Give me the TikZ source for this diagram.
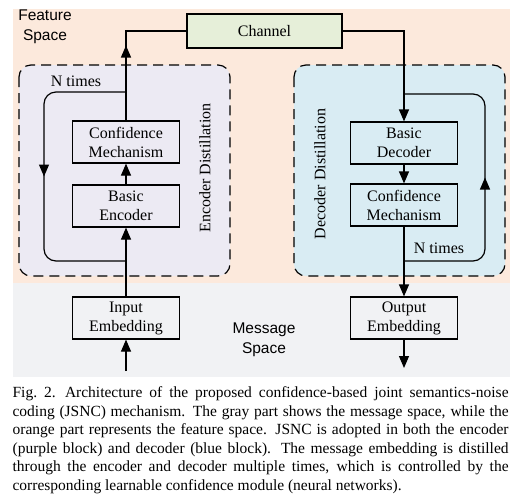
\documentclass[tikz,border=0pt]{standalone}
\usepackage{fontspec}
\setmainfont{Liberation Serif}
\newfontfamily\spacefont{Liberation Sans}
\usetikzlibrary{decorations.markings}
\usetikzlibrary{positioning, arrows.meta}

\definecolor{featOrange}{HTML}{FCE9DC}
\definecolor{msgGray}{HTML}{F1F2F4}
\definecolor{encPurple}{HTML}{ECEAF3}
\definecolor{decBlue}{HTML}{D9ECF3}
\definecolor{chanGreen}{HTML}{E6EFD9}

\begin{document}
\begin{tikzpicture}[
		x=1pt, y=-1pt,
		line width=1.2pt,
		>={Triangle[length=12pt, width=10pt]},
		decoration={
			markings,
			mark=at position 0.5 with {\arrow{>}}
		},
		font=\fontsize{16}{19}\selectfont,
		block/.style={draw, minimum width=107pt, minimum height=42pt, inner sep=2pt},
		distil/.style={draw, dash pattern=on 10pt off 6pt, rounded corners=12pt},
		spaceLbl/.style={font=\spacefont\fontsize{15.5}{20}\selectfont},
		every text node part/.style={align=center}
	]
	\useasboundingbox (0,0) rectangle (526,499);
	\fill[featOrange] (13,9) rectangle (510,283);
	\fill[msgGray] (13,283) rectangle (510,377);
	\draw[distil, fill=encPurple] (19,65) rectangle (230,276);
	\draw[distil, fill=decBlue] (294,65) rectangle (505,276);

	\node[spaceLbl] (featLbl) at (45,27) {Feature\\Space};
	\node[spaceLbl] (msgLbl) at (264,340) {Message\\Space};

	\node[block, fill=chanGreen, minimum width=155pt, minimum height=34pt] (chan) at (264.5,31) {Channel};
	\node[block] (confE) at (126,142) {Confidence\\Mechanism};
	\node[block] (basicE) at (126,206) {Basic\\Encoder};
	\node[block] (inEmb) at (126,318) {Input\\Embedding};
	\node[block] (basicD) at (404,143) {Basic\\Decoder};
	\node[block] (confD) at (404,205) {Confidence\\Mechanism};
	\node[block] (outEmb) at (404,318) {Output\\Embedding};

	\node (nE) at (76,81) {N times};
	\node (nD) at (439,248) {N times};
	\node[rotate=90] (encLbl) at (205,168) {Encoder Distillation};
	\node[rotate=90] (decLbl) at (320,174) {Decoder Distillation};

	\coordinate (inStart) at (126,371);
	\coordinate (outEnd) at (404,368);
	\coordinate (eTop) at (126,92);
	\coordinate (eBot) at (126,261);
	\coordinate (dTop) at (404,94);
	\coordinate (dBot) at (404,261);

	\draw[->] (inStart) -- (inEmb);
	\draw[->] (inEmb) -- (basicE);
	\draw[->] (basicE) -- (confE);
	\draw[postaction={decorate}] (confE.north) |- (chan.west);
	\draw[->] (chan.east) -| (basicD.north);
	\draw[->] (basicD) -- (confD);
	\draw[->] (confD) -- (outEmb);
	\draw[->] (outEmb) -- (outEnd);
	\draw[postaction={decorate}, rounded corners=12pt] (eTop) -- ++(-82,0) -- ++(0,169) -- (eBot);
	\draw[postaction={decorate}, rounded corners=12pt] (dBot) -- ++(81,0) -- ++(0,-167) -- (dTop);

	\node[anchor=north west, inner sep=0pt, font=\fontsize{15.5}{18.6}\selectfont] (caption) at (12,386) {\begin{minipage}{496pt}
	Fig.~2.\hspace{0.6em}Architecture of the proposed confidence-based joint semantics-noise\linebreak
	coding (JSNC) mechanism. The gray part shows the message space, while the\linebreak
	orange part represents the feature space. JSNC is adopted in both the encoder\linebreak
	(purple block) and decoder (blue block). The message embedding is distilled\linebreak
	through the encoder and decoder multiple times, which is controlled by the\linebreak
	corresponding learnable confidence module (neural networks).
	\end{minipage}};
\end{tikzpicture}
\end{document}
